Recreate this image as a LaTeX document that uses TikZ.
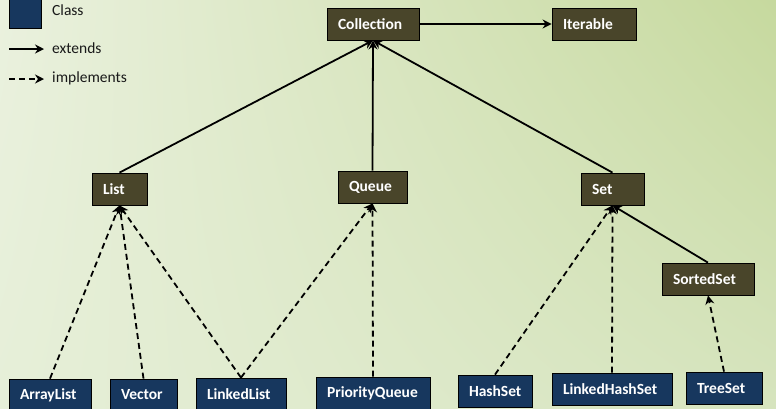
\documentclass[tikz,border=0pt]{standalone}
\usepackage{fontspec}
\setmainfont{Carlito}
\usetikzlibrary{arrows.meta,shadings}

\definecolor{ifacefill}{RGB}{73,69,42}
\definecolor{classfill}{RGB}{23,55,94}
\definecolor{bgul}{RGB}{234,241,222}
\definecolor{bgur}{RGB}{198,217,158}
\definecolor{bgll}{RGB}{230,239,216}
\definecolor{bglr}{RGB}{214,228,190}

\tikzset{
  box/.style={draw=black, line width=0.8pt, minimum height=32pt, inner xsep=11pt,
    inner ysep=0pt, align=left, text=white, font=\fontsize{15.5}{18}\selectfont\bfseries},
  iface/.style={box, fill=ifacefill, text width=#1},
  cls/.style={box, fill=classfill, text width=#1},
  legtext/.style={anchor=west, inner sep=0pt, text=black!90, font=\fontsize{15.5}{18}\selectfont},
  ext/.style={line width=1.8pt, -{Stealth[length=9pt,width=9pt]}},
  impl/.style={ext, dash pattern=on 6pt off 4pt}
}

\begin{document}
\begin{tikzpicture}[x=1pt,y=-1pt]
  % háttér
  \useasboundingbox (0,0) rectangle (776,408);
  \clip (0,0) rectangle (776,408);
  \shade[upper left=bgul, upper right=bgur, lower left=bgll, lower right=bglr]
    (0,0) rectangle (776,408);

  % jelmagyarázat
  \node[draw=black, line width=0.8pt, fill=classfill, minimum width=32pt, minimum height=34pt,
    inner sep=0pt] (legclass) at (25,11) {};
  \node[legtext] (legclasstext) at (52,10) {Class};
  \coordinate (exta) at (9,49);
  \coordinate (extb) at (44,49);
  \draw[ext] (exta) -- (extb);
  \node[legtext] (legext) at (52,48) {extends};
  \coordinate (impa) at (9,79);
  \coordinate (impb) at (44,79);
  \draw[impl] (impa) -- (impb);
  \node[legtext] (legimpl) at (52,78) {implements};

  % interfészek
  \node[iface=70pt] (collection) at (373,24) {Collection};
  \node[iface=62pt] (iterable) at (594,24) {Iterable};
  \node[iface=33pt] (list) at (119.5,189) {List};
  \node[iface=47pt] (queue) at (372.5,187) {Queue};
  \node[iface=41pt] (set) at (612.5,189) {Set};
  \node[iface=70pt] (sortedset) at (708,279) {SortedSet};

  % osztályok
  \node[cls=60pt] (arraylist) at (50,395) {ArrayList};
  \node[cls=45pt] (vector) at (143.5,395) {Vector};
  \node[cls=68pt] (linkedlist) at (241,394) {LinkedList};
  \node[cls=92pt] (priorityqueue) at (373,393) {PriorityQueue};
  \node[cls=52pt] (hashset) at (495,391) {HashSet};
  \node[cls=98pt] (linkedhashset) at (612,389) {LinkedHashSet};
  \node[cls=54pt] (treeset) at (724,388) {TreeSet};

  % extends
  \draw[ext] (collection) -- (iterable);
  \draw[ext] (list.north) -- (collection.south);
  \draw[ext] (queue.north) -- (collection.south);
  \draw[ext] (set.north) -- (collection.south);
  \draw[ext] (sortedset.north) -- (set.south);

  % implements
  \draw[impl] (arraylist.north) -- (list.south);
  \draw[impl] (vector.north) -- (list.south);
  \draw[impl] (linkedlist.north) -- (list.south);
  \draw[impl] (linkedlist.north) -- (queue.south);
  \draw[impl] (priorityqueue.north) -- (queue.south);
  \draw[impl] (hashset.north) -- (set.south);
  \draw[impl] (linkedhashset.north) -- (set.south);
  \draw[impl] (treeset.north) -- (sortedset.south);
\end{tikzpicture}
\end{document}
